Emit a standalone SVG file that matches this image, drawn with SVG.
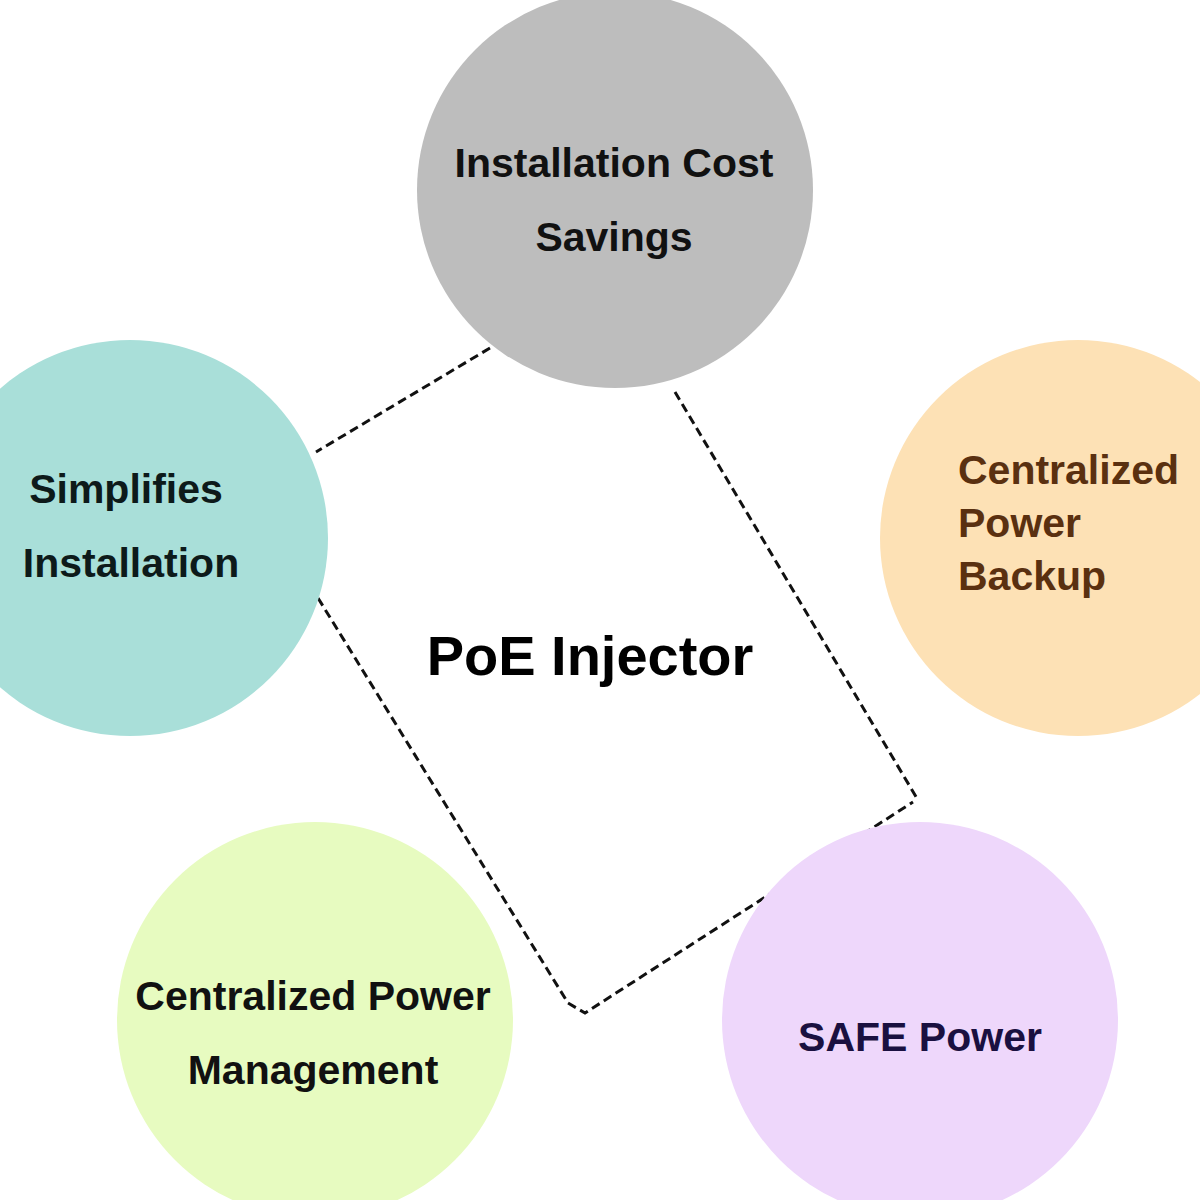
<svg xmlns="http://www.w3.org/2000/svg" width="1200" height="1200" viewBox="0 0 1200 1200">
<style>
.t{font-family:"Liberation Sans",Arial,sans-serif;font-weight:bold;font-size:41px;text-anchor:middle}
.c{stroke:#111;stroke-width:3;stroke-dasharray:9 5;fill:none}
</style>
<rect width="1200" height="1200" fill="#fff"/>
<g id="connectors">
<path class="c" d="M490,348 L316,452"/>
<path class="c" d="M318,598 L568,1003 L585,1013 L913,802"/>
<path class="c" d="M675,392 L918,800"/>
</g>
<g id="cost"><circle cx="615" cy="190" r="198" fill="#bdbdbd"/>
<text class="t" x="614" y="177" fill="#111">Installation Cost</text><text class="t" x="614" y="251" fill="#111">Savings</text></g>
<g id="simplifies"><circle cx="130" cy="538" r="198" fill="#a9dfd9"/>
<text class="t" x="126" y="503" fill="#0d1a1a">Simplifies</text><text class="t" x="131" y="577" fill="#0d1a1a">Installation</text></g>
<g id="backup"><circle cx="1078" cy="538" r="198" fill="#fde1b5"/>
<text class="t" x="958" y="484" fill="#5a3010" style="text-anchor:start">Centralized</text>
<text class="t" x="958" y="537" fill="#5a3010" style="text-anchor:start">Power</text>
<text class="t" x="958" y="590" fill="#5a3010" style="text-anchor:start">Backup</text></g>
<g id="management"><circle cx="315" cy="1020" r="198" fill="#e7fbc0"/>
<text class="t" x="313" y="1010" fill="#111">Centralized Power</text><text class="t" x="313" y="1084" fill="#111">Management</text></g>
<g id="safe"><circle cx="920" cy="1020" r="198" fill="#eed7fb"/>
<text class="t" x="920" y="1051" fill="#1a1040">SAFE Power</text></g>
<g id="center"><text class="t" x="590" y="675" style="font-size:56px" fill="#000">PoE Injector</text></g>
</svg>
